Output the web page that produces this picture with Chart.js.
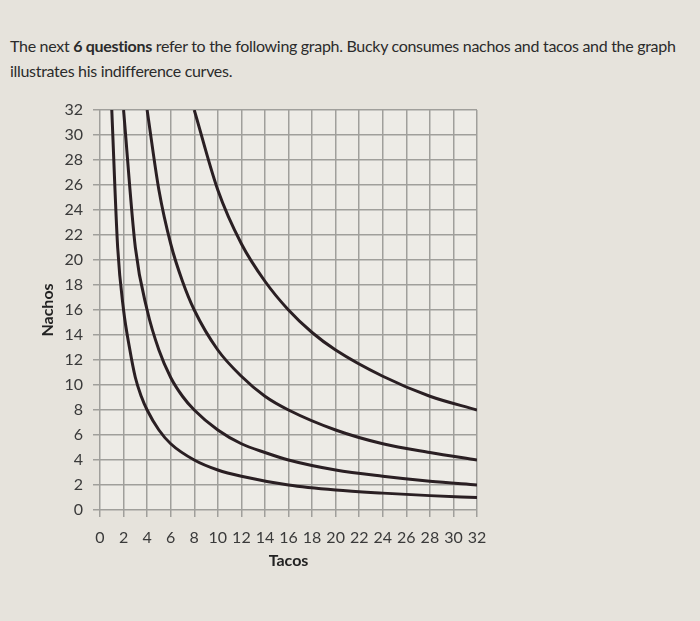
<!DOCTYPE html>
<html lang="en">
<head>
    <meta charset="UTF-8">
    <title>Indifference curves</title>
    <style>
        body { margin: 0; width: 700px; height: 621px; background: #e6e3dc; font-family: Lato, "Open Sans", sans-serif; overflow: hidden; }
        #intro { position: absolute; left: 10px; top: 33px; width: 690px; font-size: 16px; letter-spacing: -0.3px; line-height: 25px; color: #2b2b2b; }
        #chart-box { position: absolute; left: 0; top: 90px; width: 700px; height: 490px; }
    </style>
</head>
<body>
    <div id="intro">The next <b>6 questions</b> refer to the following graph. Bucky consumes nachos and tacos and the graph illustrates his indifference curves.</div>
    <div id="chart-box"><canvas id="myChart"></canvas></div>

<script src="https://cdn.jsdelivr.net/npm/chart.js"></script>
<script>
    // tick labels
    const tacoTicks = [0, 2, 4, 6, 8, 10, 12, 14, 16, 18, 20, 22, 24, 26, 28, 30, 32];
    const nachoTicks = [0, 2, 4, 6, 8, 10, 12, 14, 16, 18, 20, 22, 24, 26, 28, 30, 32];

    // curves (lowest to highest)
    const tacos1 = [1, 1.5, 2, 2.5, 3, 3.5, 4, 5, 6, 8, 10, 12, 16, 20, 24, 28, 32];
    const nachos1 = [32, 21, 16, 13, 10.6, 9.1, 8, 6.4, 5.3, 4, 3.2, 2.7, 2, 1.6, 1.35, 1.15, 1];
    const tacos2 = [2, 3, 4, 5, 6, 7, 8, 10, 12, 14, 16, 20, 24, 28, 32];
    const nachos2 = [32, 21, 16, 12.8, 10.6, 9.1, 8, 6.4, 5.3, 4.6, 4, 3.2, 2.7, 2.3, 2];
    const tacos3 = [4, 5, 6, 7, 8, 10, 12, 14, 16, 20, 24, 28, 32];
    const nachos3 = [32, 25.6, 21.3, 18.3, 16, 12.8, 10.7, 9.1, 8, 6.4, 5.3, 4.6, 4];
    const tacos4 = [8, 10, 12, 14, 16, 18, 20, 24, 28, 32];
    const nachos4 = [32, 25.6, 21.3, 18.3, 16, 14.2, 12.8, 10.7, 9.1, 8];

    function pts(xs, ys) {
        return xs.map((x, i) => ({ x: x, y: ys[i] }));
    }
    function curve(xs, ys) {
        return {
            data: pts(xs, ys),
            showLine: true,
            borderColor: "#2a1f23",
            borderWidth: 3,
            pointRadius: 0,
            cubicInterpolationMode: "monotone",
            fill: false
        };
    }

    const tickFont = { family: "Lato", size: 16 };
    const gridColor = "#a09f9b";

    new Chart(document.getElementById("myChart"), {
        type: "scatter",
        data: {
            datasets: [
                curve(tacos1, nachos1),
                curve(tacos2, nachos2),
                curve(tacos3, nachos3),
                curve(tacos4, nachos4)
            ]
        },
        options: {
            responsive: true,
            maintainAspectRatio: false,
            animation: false,
            layout: { padding: { top: 20, right: 223, bottom: 6, left: 0 } },
            plugins: { legend: { display: false }, tooltip: { enabled: false } },
            scales: {
                x: {
                    type: "linear",
                    min: 0, max: 32,
                    afterBuildTicks: s => { s.ticks = tacoTicks.map(v => ({ value: v })); },
                    afterFit: s => { s.height = 64; },
                    grid: { color: gridColor, lineWidth: 1.5, tickLength: 7 },
                    border: { display: false },
                    ticks: { color: "#3a3a3a", font: tickFont, padding: 11, maxRotation: 0, autoSkip: false },
                    title: { display: true, text: "Tacos", color: "#222", font: { family: "Lato", size: 16, weight: "bold" }, padding: { top: 4 } }
                },
                y: {
                    type: "linear",
                    min: 0, max: 32,
                    afterBuildTicks: s => { s.ticks = nachoTicks.map(v => ({ value: v })); },
                    afterFit: s => { s.width = 100; },
                    grid: { color: gridColor, lineWidth: 1.5, tickLength: 7 },
                    border: { display: false },
                    ticks: { color: "#3a3a3a", font: tickFont, padding: 10, autoSkip: false },
                    title: { display: true, text: "Nachos", color: "#222", font: { family: "Lato", size: 16, weight: "bold" }, padding: { top: 38 } }
                }
            }
        },
        plugins: [{
            id: "paper",
            beforeDraw: c => {
                const a = c.chartArea, ctx = c.ctx;
                ctx.save();
                ctx.fillStyle = "#edebe6";
                ctx.fillRect(a.left, a.top, a.right - a.left, a.bottom - a.top);
                ctx.restore();
            }
        }]
    });
</script>
</body>
</html>
